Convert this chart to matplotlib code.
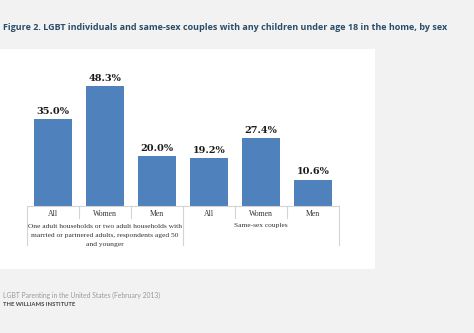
import matplotlib
matplotlib.use("Agg")
import matplotlib.pyplot as plt
from matplotlib.patches import Rectangle

categories = ["All", "Women", "Men", "All", "Women", "Men"]
values = [35.0, 48.3, 20.0, 19.2, 27.4, 10.6]
group_labels = ["One adult households or two adult households with\nmarried or partnered adults, respondents aged 50\nand younger",
                "Same-sex couples"]
title = "Figure 2. LGBT individuals and same-sex couples with any children under age 18 in the home, by sex"
source = "LGBT Parenting in the United States (February 2013)"
org = "THE WILLIAMS INSTITUTE"

W, H = 474, 333
fig = plt.figure(figsize=(W / 100, H / 100), dpi=100, facecolor="#f2f2f2")

# white chart panel
fig.patches.append(Rectangle((0, 1 - 269 / H), 375 / W, (269 - 49) / H,
                             transform=fig.transFigure, facecolor="white", edgecolor="none", zorder=-1))

fig.text(3 / W, 1 - 27 / H, title, fontsize=6.45, fontweight="bold", color="#2a4d69",
         family="Open Sans", va="center", ha="left")

fig.text(3 / W, 1 - 295 / H, source, fontsize=4.9, color="#9a9a9a", family="Lato", va="center")
fig.text(3 / W, 1 - 304 / H, org, fontsize=4.2, color="#444444", fontweight="bold", family="Lato", va="center")

ax = fig.add_axes([27 / W, 1 - 206 / H, 312 / W, 136 / H])
ax.set_facecolor("none")
x = list(range(len(categories)))
bars = ax.bar(x, values, width=38 / 52, color="#4f81bd", zorder=2)
ax.set_xlim(-0.5, len(categories) - 0.5)
ax.set_ylim(0, 136 / 2.48)
for s in ax.spines.values():
    s.set_visible(False)
ax.set_xticks([])
ax.set_yticks([])

for xi, v in zip(x, values):
    ax.annotate(f"{v:.1f}%", (xi, v), xytext=(0, 2.5), textcoords="offset points",
                ha="center", va="bottom", fontsize=7, fontweight="bold",
                family="DejaVu Serif", color="#1a1a1a")

trans = ax.get_xaxis_transform()
sep = "#d4d4d4"
ax.plot([-0.5, len(categories) - 0.5], [0, 0], color=sep, lw=0.8, transform=trans, clip_on=False)
for b in [-0.5, 0.5, 1.5, 2.5, 3.5, 4.5, 5.5]:
    depth = -39 / 136 if b in (-0.5, 2.5, 5.5) else -12 / 136
    ax.plot([b, b], [0, depth], color=sep, lw=0.8, transform=trans, clip_on=False)

for xi, c in zip(x, categories):
    ax.text(xi, -8 / 136, c, transform=trans, ha="center", va="center", fontsize=5.6,
            family="Liberation Serif", color="#333333")

ax.text(1, -17.5 / 136, group_labels[0], transform=trans, ha="center", va="top", fontsize=5.4,
        family="Liberation Serif", color="#333333", linespacing=2.1)
ax.text(4, -20 / 136, group_labels[1], transform=trans, ha="center", va="center", fontsize=5.4,
        family="Liberation Serif", color="#333333")

fig.savefig("out.png", dpi=100, facecolor=fig.get_facecolor())
